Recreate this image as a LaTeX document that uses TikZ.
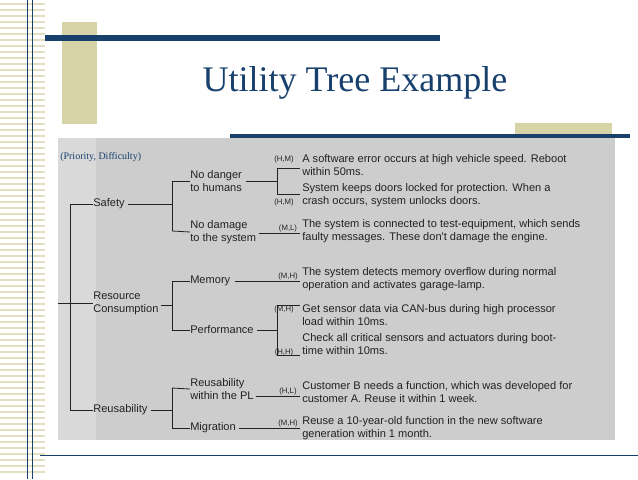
\documentclass[tikz,border=0pt]{standalone}
\usepackage{fontspec}
\setmainfont{Liberation Serif}
\newfontfamily\arialf{Liberation Sans}
\definecolor{navy}{HTML}{17406D}
\definecolor{tan}{HTML}{D6D3A6}
\definecolor{stripe}{HTML}{E3E0C2}
\definecolor{panel}{HTML}{CDCDCD}
\definecolor{panell}{HTML}{D9D9D9}
\definecolor{ink}{HTML}{222222}
\begin{document}
\begin{tikzpicture}[x=0.75pt,y=-0.75pt,
  tx/.style={anchor=west,inner sep=0pt,font=\arialf\fontsize{8.3}{9.9}\selectfont,text=ink,align=left},
  lb/.style={anchor=south,inner sep=0.5pt,font=\arialf\fontsize{5.8}{6}\selectfont,text=ink},
  ln/.style={draw=ink,line width=0.6pt}]
\useasboundingbox (0,0) rectangle (638,479);
\fill[white] (0,0) rectangle (638,479);
\foreach \y in {4,10,...,476} \draw[stripe,line width=1.2pt] (0,\y) -- (45,\y);
\draw[navy,line width=0.6pt] (27,0) -- (27,479);
\draw[navy,line width=0.6pt] (32,0) -- (32,479);
\fill[tan] (62,22) rectangle (97,124);
\fill[tan] (515,123) rectangle (612,135);
\draw[navy,line width=4pt] (45,38) -- (440,38);
\node[text=navy,font=\fontsize{27}{30}\selectfont] (title) at (355,83) {Utility Tree Example};
\fill[panel] (58,138) rectangle (615,440);
\fill[panell] (58,138) rectangle (96,440);
\draw[navy,line width=3.5pt] (230,136) -- (630,136);
\draw[navy,line width=0.6pt] (40,455) -- (638,455);
\node[anchor=west,inner sep=0pt,text=navy,font=\fontsize{7.5}{9}\selectfont] (pd) at (60,157) {(Priority, Difficulty)};
% level 1
\draw[ln] (58,303) -- (70,303);
\draw[ln] (70,204) -- (70,410);
\node[tx] (safety) at (93,204) {Safety};
\node[tx] (res) at (93,303) {Resource\\Consumption};
\node[tx] (reus) at (93,410) {Reusability};
\draw[ln] (70,204) -- (safety.west);
\draw[ln] (70,303) -- (res.west);
\draw[ln] (70,410) -- (reus.west);
% safety
\draw[ln] (safety.east) ++(3,0) -- (172,204);
\draw[ln] (172,181) -- (172,231);
\node[tx] (nd) at (190,181) {No danger\\to humans};
\node[tx] (ndm) at (190,232) {No damage\\to the system};
\draw[ln] (172,181) -- (nd.west); \draw[ln] (172,231) -- (ndm.west);
\draw[ln] (nd.east) ++(4,0) -- (277,181);
\draw[ln] (277,168) -- (277,194);
\draw[ln] (277,168) -- (300,168); \draw[ln] (277,194) -- (300,194);
\node[lb] (l1) at (284,164) {(H,M)};
\node[lb] (l2) at (284,207) {(H,M)};
\coordinate (c3) at (300,233);
\draw[ln] (ndm.east) ++(3,1) -- (c3);
\node[lb] (l3) at (288,233) {(M,L)};
% resource
\draw[ln] (res.east) ++(2,2) -- (172,305);
\draw[ln] (172,281) -- (172,330);
\node[tx] (mem) at (190,281) {Memory};
\node[tx] (perf) at (190,330) {Performance};
\draw[ln] (172,281) -- (mem.west); \draw[ln] (172,330) -- (perf.west);
\coordinate (c4) at (300,281);
\draw[ln] (mem.east) ++(4,0) -- (c4);
\node[lb] (l4) at (288,281) {(M,H)};
\draw[ln] (perf.east) ++(3,0) -- (277,330);
\draw[ln] (277,305) -- (277,355);
\draw[ln] (277,305) -- (300,305); \draw[ln] (277,355) -- (300,355);
\node[lb] (l5) at (284,314) {(M,H)};
\node[lb] (l6) at (284,357) {(H,H)};
% reusability
\draw[ln] (reus.east) ++(3,0) -- (172,410);
\draw[ln] (172,388) -- (172,428);
\node[tx] (wpl) at (190,389) {Reusability\\within the PL};
\node[tx] (mig) at (190,428) {Migration};
\draw[ln] (172,388) -- (wpl.west); \draw[ln] (172,428) -- (mig.west);
\coordinate (c7) at (300,396);
\draw[ln] (wpl.east) ++(2,7) -- (c7);
\node[lb] (l7) at (288,396) {(H,L)};
\coordinate (c8) at (300,428);
\draw[ln] (mig.east) ++(3,0) -- (c8);
\node[lb] (l8) at (288,428) {(M,H)};
% texts
\node[tx] (t1) at (302,165) {A software error occurs at high vehicle speed. Reboot\\within 50ms.};
\node[tx] (t2) at (302,195) {System keeps doors locked for protection. When a\\crash occurs, system unlocks doors.};
\node[tx] (t3) at (302,231) {The system is connected to test-equipment, which sends\\faulty messages. These don't damage the engine.};
\node[tx] (t4) at (302,279) {The system detects memory overflow during normal\\operation and activates garage-lamp.};
\node[tx] (t5) at (302,315) {Get sensor data via CAN-bus during high processor\\load within 10ms.};
\node[tx] (t6) at (302,344) {Check all critical sensors and actuators during boot-\\time within 10ms.};
\node[tx] (t7) at (302,392) {Customer B needs a function, which was developed for\\customer A. Reuse it within 1 week.};
\node[tx] (t8) at (302,428) {Reuse a 10-year-old function in the new software\\generation within 1 month.};
\end{tikzpicture}
\end{document}
